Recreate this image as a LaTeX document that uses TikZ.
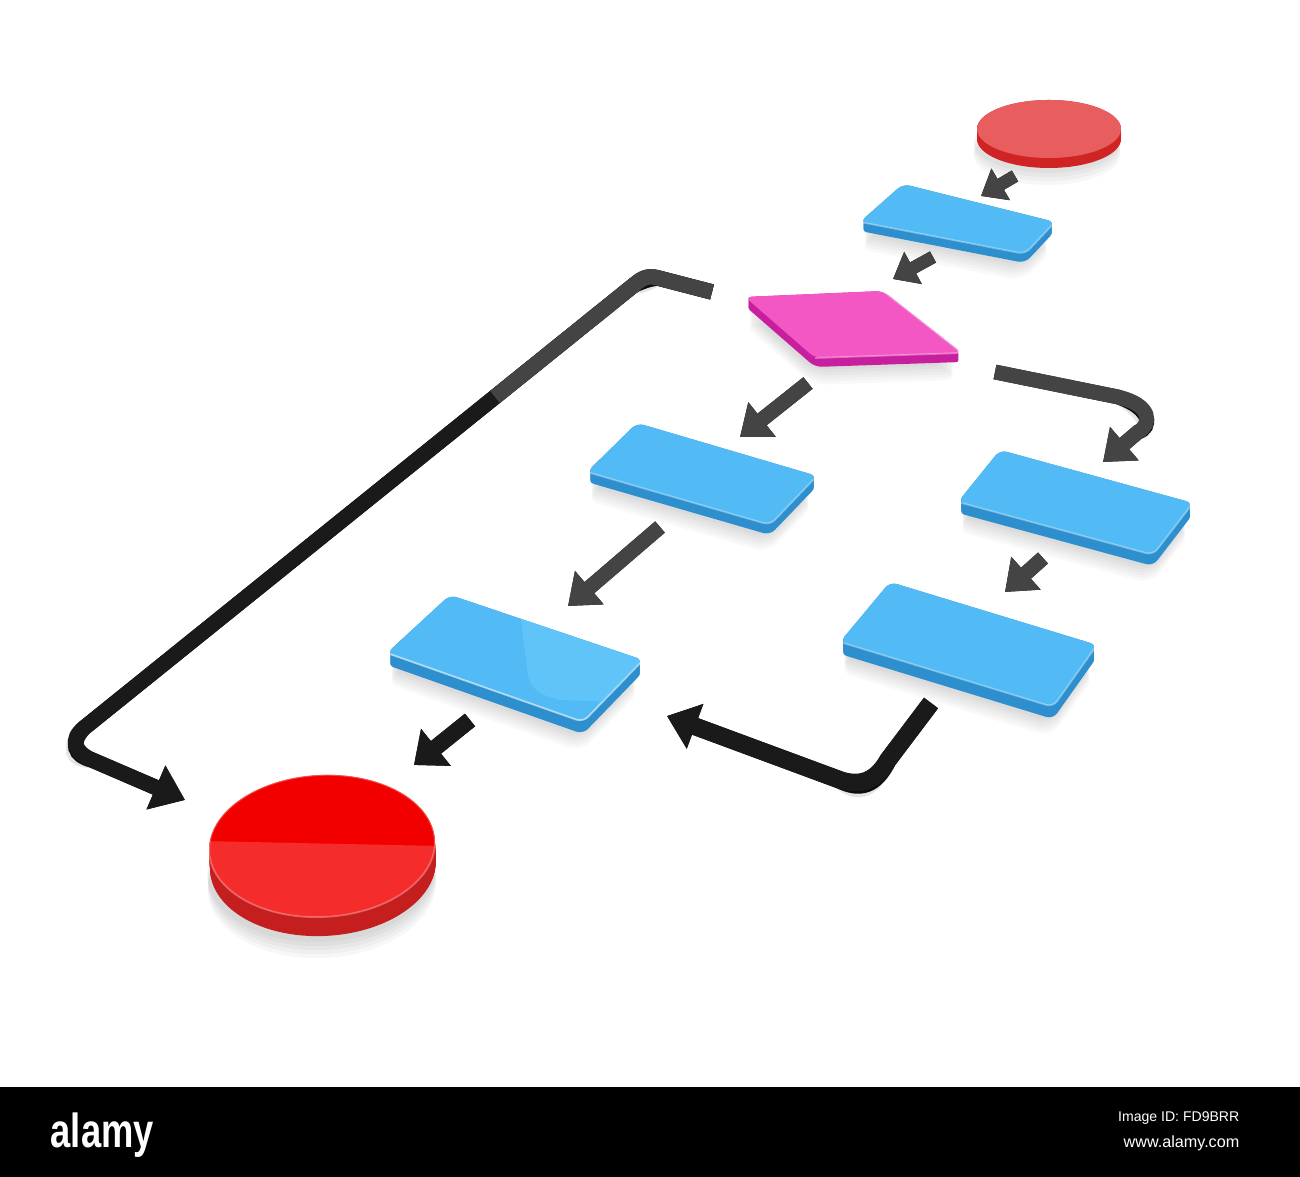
\documentclass[tikz,border=0pt]{standalone}
\usepackage{fontspec}
\setmainfont{Liberation Sans}
\usetikzlibrary{arrows.meta,calc}
\definecolor{bluetop}{HTML}{52BAF4}
\definecolor{bluegloss}{HTML}{60C4F8}
\definecolor{blueside}{HTML}{2E8FCF}
\definecolor{pinktop}{HTML}{F257C4}
\definecolor{pinkside}{HTML}{C81F9E}
\definecolor{redtop}{HTML}{F20000}
\definecolor{redgloss}{HTML}{F52C2C}
\definecolor{redside}{HTML}{C41E1E}
\definecolor{redAtop}{HTML}{E85E5E}
\definecolor{redAside}{HTML}{D02424}
\definecolor{arrgray}{HTML}{444444}
\definecolor{arrblack}{HTML}{1A1A1A}
\definecolor{arrside}{HTML}{0E0E0E}
% slab: #1 back-left, #2 back-right, #3 front-right, #4 front-left, #5 thickness, #6 top, #7 side
\newcommand\myslab[7]{%
  \foreach \d in {3,6,...,18} {\fill[black,opacity=0.025,shift={(-2,#5+\d)},rounded corners=4pt] (#1)--(#2)--(#3)--(#4)--cycle;}
  \foreach \d in {0,1,...,#5} {\fill[#7,shift={(0,\d)},rounded corners=2pt] (#1)--(#2)--(#3)--(#4)--cycle;}
  \fill[#6,rounded corners=2pt] (#1)--(#2)--(#3)--(#4)--cycle;
  \draw[white,opacity=.35,line width=.5pt,rounded corners=2pt] (#4)--(#3)--(#2);
}
% arrow: #1 path, #2 width, #3 tip, #4 top colour
\newcommand\flowarrow[4]{%
  \draw[line width=#2, black, opacity=.10, yshift=-2.6pt, xshift=-0.8pt, -{Triangle[#3]}] #1;
  \draw[line width=#2, arrside, yshift=-1.1pt, -{Triangle[#3]}] #1;
  \draw[line width=#2, #4, -{Triangle[#3]}] #1;
}
\begin{document}
\begin{tikzpicture}[x=0.01cm,y=-0.01cm]
\useasboundingbox (0,0) rectangle (1300,1177);
\fill[white] (0,0) rectangle (1300,1177);

% ---- top red ellipse (start)
\coordinate (start) at (1049,129);
\foreach \d in {4,8,12,16} {\fill[black,opacity=.03] (1047,139+\d) ellipse [x radius=73,y radius=30];}
\foreach \d in {0,1,...,10} {\fill[redAside] (1049,129+\d) ellipse [x radius=72,y radius=29];}
\fill[redAtop] (start) ellipse [x radius=72,y radius=29];

% ---- slabs (back to front)
\coordinate (box1) at (960,220);
\myslab{903,184}{1055,222}{1025,254}{860,222}{9}{bluetop}{blueside}
\coordinate (decision) at (855,325);
\myslab{745,297}{883,291}{962,353}{815,358}{9}{pinktop}{pinkside}
\coordinate (box2) at (702,474);
\myslab{637,423}{817,476}{770,525}{587,472}{10}{bluetop}{blueside}
\coordinate (box3) at (1076,502);
\myslab{1000,450}{1193,503}{1153,555}{958,502}{11}{bluetop}{blueside}
\coordinate (box5) at (968,644);
\myslab{890,582}{1097,645}{1053,707}{840,642}{12}{bluetop}{blueside}
\coordinate (box4) at (515,658);
\myslab{450,595}{643,660}{583,722}{387,653}{12}{bluetop}{blueside}
\begin{scope}
  \clip[rounded corners=2pt] (450,595)--(643,660)--(583,722)--(387,653)--cycle;
  \fill[bluegloss] (519,605) -- (528,675) .. controls (531,690) and (540,695) .. (560,700) -- (700,705) -- (700,590) -- cycle;
\end{scope}
\draw[white,opacity=.35,line width=.5pt,rounded corners=2pt] (387,653)--(583,722)--(643,660);

% ---- bottom red disc (end)
\coordinate (end) at (322,846);
\foreach \d in {4,8,12,16,20} {\fill[black,opacity=.03,rotate around={3:(end)}] (320,866+\d) ellipse [x radius=114,y radius=72];}
\foreach \d in {0,1,...,19} {\fill[redside,rotate around={3:(end)}] (322,846+\d) ellipse [x radius=113,y radius=71];}
\fill[redtop,rotate around={3:(end)}] (end) ellipse [x radius=113,y radius=71];
\begin{scope}
  \clip[rotate around={3:(end)}] (end) ellipse [x radius=113,y radius=71];
  \fill[redgloss] (200,841) -- (440,846) -- (440,930) -- (200,930) -- cycle;
\end{scope}
\draw[white,opacity=.3,line width=.5pt,rotate around={3:(end)}] (end) ellipse [x radius=113,y radius=71];

% ---- connector end points
\coordinate (a1s) at (1015,176); \coordinate (a1e) at (981,196);
\coordinate (a2s) at (933,257);  \coordinate (a2e) at (893,279);
\coordinate (a3s) at (808,383);  \coordinate (a3e) at (740,437);
\coordinate (a4s) at (995,372);  \coordinate (a4m) at (1118,397);
\coordinate (a4k) at (1138,432); \coordinate (a4e) at (1103,462);
\coordinate (a5s) at (1043,558); \coordinate (a5e) at (1005,592);
\coordinate (a6s) at (660,527);  \coordinate (a6e) at (568,606);
\coordinate (a7s) at (470,720);  \coordinate (a7e) at (414,765);
\coordinate (a8s) at (931,703);  \coordinate (a8m) at (888,760);
\coordinate (a8k) at (840,780);  \coordinate (a8e) at (667,716);
\coordinate (a9s) at (712,292);  \coordinate (a9m) at (658,278);
\coordinate (a9k) at (634,285);  \coordinate (a9g) at (495,397);
\coordinate (a9b) at (84,728);   \coordinate (a9c) at (92,760);
\coordinate (a9e) at (185,800);

% ---- connectors
\flowarrow{(a1s) -- (a1e)}{3.6pt}{width=10pt,length=6.5pt}{arrgray}
\flowarrow{(a2s) -- (a2e)}{3.6pt}{width=10pt,length=6.5pt}{arrgray}
\flowarrow{(a3s) -- (a3e)}{4.2pt}{width=12pt,length=8pt}{arrgray}
\flowarrow{(a4s) -- (a4m) .. controls (1152,405) and (1152,424) .. (a4k) -- (a4e)}{4.2pt}{width=12pt,length=8pt}{arrgray}
\flowarrow{(a5s) -- (a5e)}{4.2pt}{width=12pt,length=8pt}{arrgray}
\flowarrow{(a6s) -- (a6e)}{4.2pt}{width=12pt,length=8pt}{arrgray}
\flowarrow{(a7s) -- (a7e)}{4.6pt}{width=13pt,length=8pt}{arrblack}
\flowarrow{(a8s) -- (a8m) .. controls (875,782) and (860,786) .. (a8k) -- (a8e)}{5pt}{width=13pt,length=8.5pt}{arrblack}
\flowarrow{(a9s) -- (a9m) .. controls (648,275) and (642,278) .. (a9k) -- (a9b) .. controls (70,739) and (74,752) .. (a9c) -- (a9e)}{4.4pt}{width=13pt,length=9pt}{arrblack}
\draw[line width=4.4pt, arrgray] (a9s) -- (a9m) .. controls (648,275) and (642,278) .. (a9k) -- (a9g);

% ---- bottom bar
\fill[black] (0,1087) rectangle (1300,1177);
\node[white, anchor=base west, inner sep=0, font=\fontsize{13.6pt}{14pt}\selectfont\bfseries] (logo) at (50,1148) {\scalebox{.76}[1]{alamy}};
\node[white, anchor=base east, inner sep=0, font=\fontsize{4pt}{5pt}\selectfont] (imgid) at (1240,1122) {Image ID: FD9BRR};
\node[white, anchor=base east, inner sep=0, font=\fontsize{4.6pt}{5pt}\selectfont] (site) at (1240,1148) {www.alamy.com};
\end{tikzpicture}
\end{document}
